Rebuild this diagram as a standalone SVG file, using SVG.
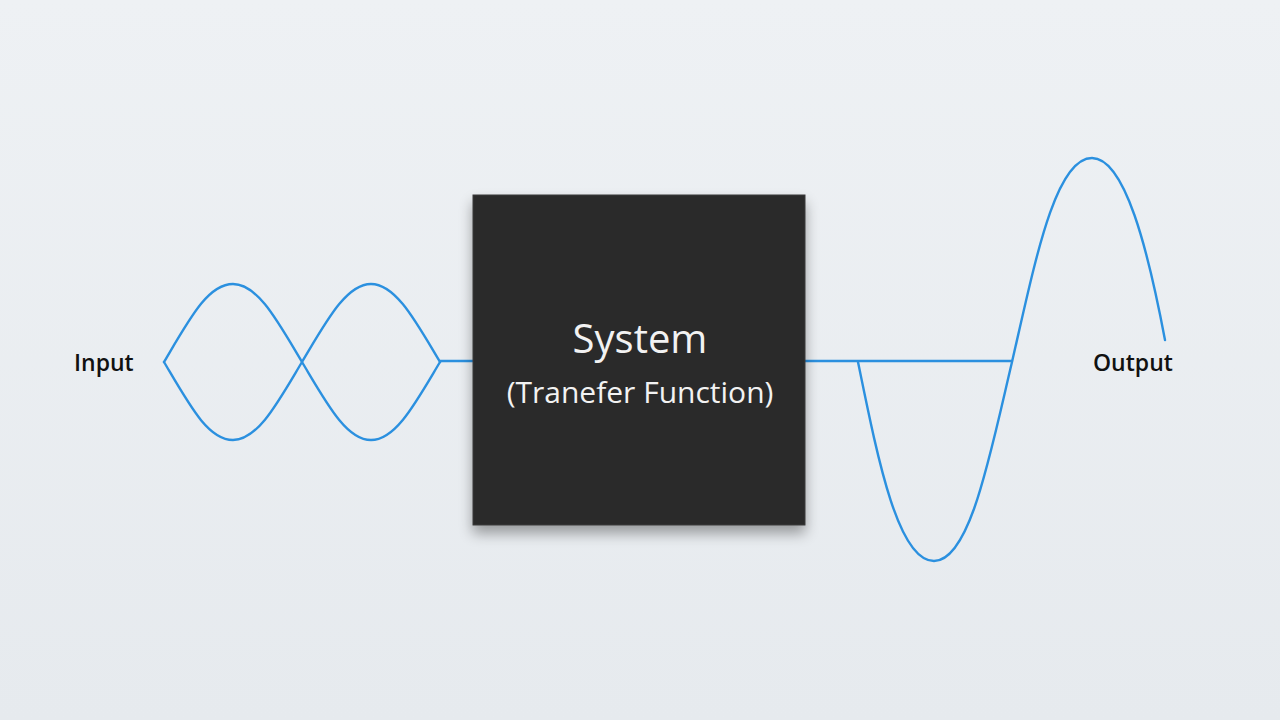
<svg xmlns="http://www.w3.org/2000/svg" width="1280" height="720" viewBox="0 0 1280 720">
<defs>
<linearGradient id="bg" x1="0" y1="0" x2="0" y2="1">
<stop offset="0" stop-color="#eef1f4"/>
<stop offset="1" stop-color="#e6eaee"/>
</linearGradient>
<filter id="sh" x="-20%" y="-20%" width="140%" height="140%">
<feGaussianBlur in="SourceAlpha" stdDeviation="7"/>
<feOffset dx="0" dy="8"/>
<feComponentTransfer><feFuncA type="linear" slope="0.35"/></feComponentTransfer>
<feMerge><feMergeNode/><feMergeNode in="SourceGraphic"/></feMerge>
</filter>
</defs>
<style>
.wave{fill:none;stroke:#2b90df;stroke-width:2.4;stroke-linejoin:round;stroke-linecap:round}
.lbl{font-family:"Open Sans","Noto Sans","Liberation Sans",sans-serif;fill:#111;font-size:23px;font-weight:600}
.sys{font-family:"Open Sans","Noto Sans","Liberation Sans",sans-serif;fill:#f2f2f2;text-anchor:middle}
</style>
<rect width="1280" height="720" fill="url(#bg)"/>
<g id="connectors">
<path class="wave" d="M164,362 C190,318 208,284 233,284 C258,284 278,322 302,362 C326,402 346,440 371,440 C396,440 416,402 440,362"/>
<path class="wave" d="M164,362 C190,406 208,440 233,440 C258,440 278,402 302,362 C326,322 346,284 371,284 C396,284 416,322 440,362"/>
<path class="wave" d="M440,361 L473,361"/>
<path class="wave" d="M805,361 L1012,361"/>
<path class="wave" d="M858,362 C878,460 898,561 934,561 C970,561 990,455 1012,362 C1035,262 1055,158 1092,158 C1125,158 1148,250 1165,340"/>
</g>
<g id="input">
<text class="lbl" x="74" y="371">Input</text>
</g>
<g id="system">
<rect x="473" y="195" width="332" height="330" fill="#2a2a2a" stroke="#3a3a3a" stroke-width="1" filter="url(#sh)"/>
<text class="sys" x="640" y="353" font-size="40">System</text>
<text class="sys" x="640" y="403" font-size="30">(Tranefer Function)</text>
</g>
<g id="output">
<text class="lbl" x="1093" y="371">Output</text>
</g>
</svg>
